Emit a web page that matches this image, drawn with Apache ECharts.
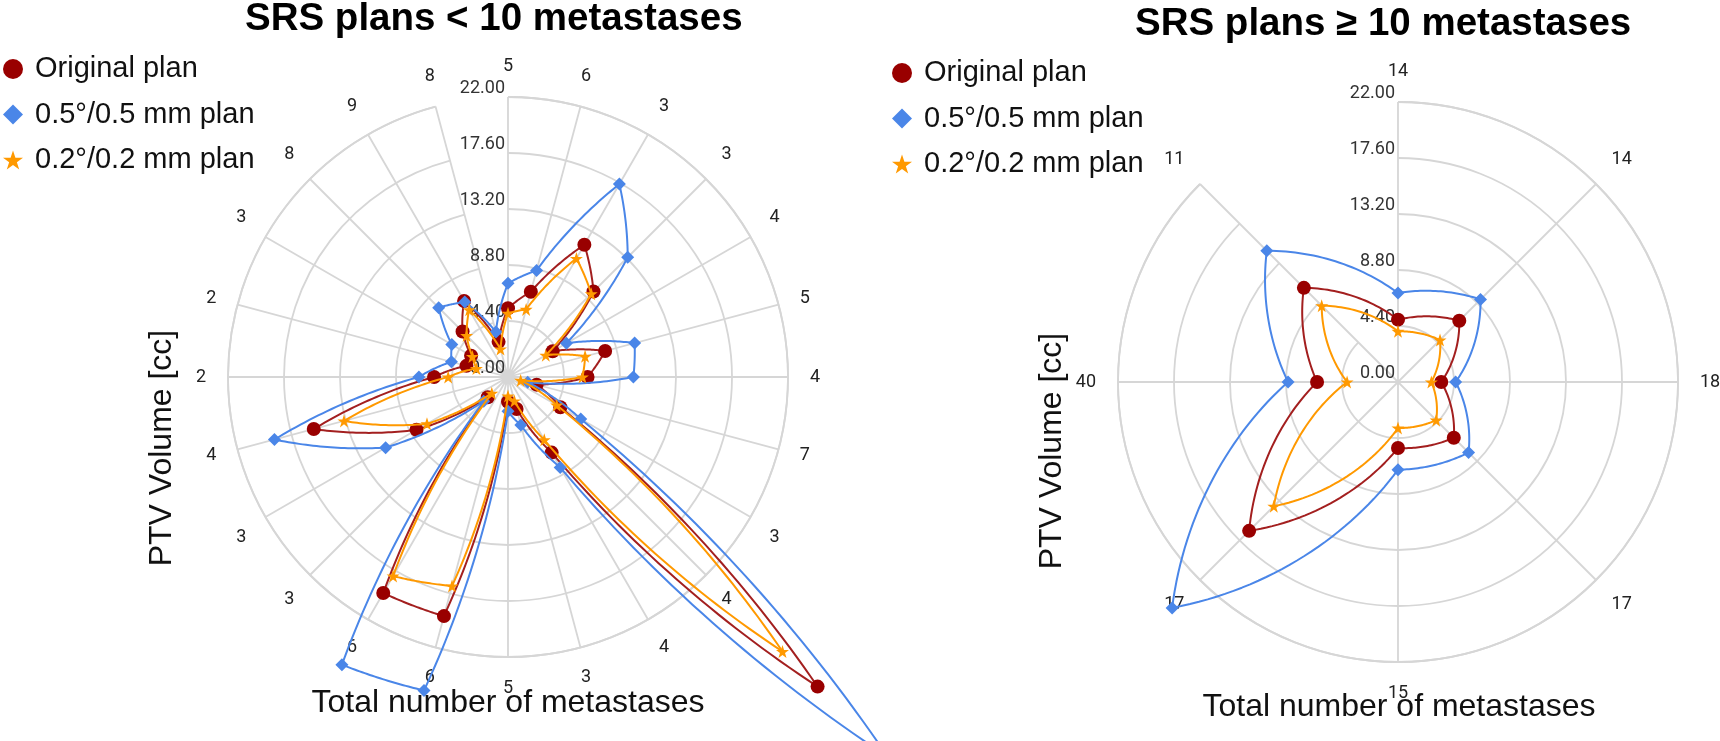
<!DOCTYPE html>
<html><head><meta charset="utf-8">
<script src="https://cdn.jsdelivr.net/npm/echarts@6/dist/echarts.min.js"></script>
<style>html,body{margin:0;padding:0;background:#fff}#c{width:1720px;height:741px}</style>
</head><body><div id="c"></div>
<script>
// ---- data ----
const leftCategories = ['5','6','3','3','4','5','4','7','3','4','4','3','5','6','6','3','3','4','2','2','3','8','9','8'];
const leftOriginal = [5.4, 6.94, 12.0, 9.5, 4.05, 7.9, 6.25, 2.33, 4.75, 34.4, 6.86, 2.6, 1.95, 19.45, 19.6, 2.25, 8.3, 15.8, 5.81, 3.38, 3.35, 5.05, 6.9, 2.86];
const leftPlan05 = [7.36, 8.67, 17.5, 13.3, 5.3, 10.3, 9.85, 1.6, 6.6, 42.2, 8.2, 3.9, 2.7, 25.5, 26.1, 2.7, 11.1, 19.0, 7.0, 4.6, 5.1, 7.7, 6.8, 3.67];
const leftPlan02 = [5.0, 5.5, 10.75, 9.25, 3.43, 6.27, 5.85, 1.03, 4.42, 30.5, 5.7, 1.95, 1.5, 17.0, 18.06, 1.8, 7.35, 13.34, 4.7, 2.57, 3.23, 4.6, 6.1, 2.28];

const rightCategories = ['14','14','18','17','15','17','40','11'];
const rightOriginal = [4.9, 6.81, 3.4, 6.2, 5.19, 16.54, 6.36, 10.46];
const rightPlan05 = [6.99, 9.17, 4.53, 7.84, 6.89, 25.1, 8.64, 14.58];
const rightPlan02 = [3.98, 4.67, 2.62, 4.24, 3.61, 13.8, 4.0, 8.48];

const radiusMin = 0, radiusMax = 22, radiusStep = 4.4;
const seriesNames = ['Original plan', '0.5°/0.5 mm plan', '0.2°/0.2 mm plan'];
const titles = ['SRS plans < 10 metastases', 'SRS plans \u2265 10 metastases'];
const yAxisTitle = 'PTV Volume [cc]';
const xAxisTitle = 'Total number of metastases';

// ---- styling / layout ----
const FONT = '"Liberation Sans", Arial, sans-serif';
const TICKFONT = 'Roboto, "Liberation Sans", sans-serif';
const GRID = '#d6d6d6';
const RED = '#990000', RED_LINE = '#a31f1f', BLUE = '#4a86e8', ORANGE = '#ff9900';
const STAR = 'path://M50,0 L61.8,35.1 L98.8,35.1 L68.9,56.8 L80.3,91.9 L50,70.2 L19.7,91.9 L31.1,56.8 L1.2,35.1 L38.2,35.1 Z';
const R = 280;          // visible grid radius (px) for radiusMax
const K = 3;            // hidden data polar is K times larger so long spikes are not clipped
const centers = [[508, 377], [1398, 382]];
const BULGE = 0.55;     // curve shape between straight chord (0) and polar interpolation (1)
const STEPS = 32;

function curveSeries(vals, polarIndex, color, z) {
  const n = vals.length;
  const data = vals.map((v, i) => [v, i, vals[(i + 1) % n]]);
  return {
    type: 'custom', name: 'curve' + polarIndex + color, coordinateSystem: 'polar', polarIndex,
    silent: true, z, animation: false, clip: false,
    encode: { radius: 0, angle: 1 },
    data,
    renderItem(params, api) {
      const r0 = api.value(0), a0 = api.value(1), r1 = api.value(2);
      const P0 = api.coord([r0, a0]);
      const P1 = api.coord([r1, a0 + 1]);
      const pts = [];
      for (let k = 0; k <= STEPS; k++) {
        const t = k / STEPS;
        const S = api.coord([r0 + (r1 - r0) * t, a0 + t]);
        const cx = P0[0] + (P1[0] - P0[0]) * t, cy = P0[1] + (P1[1] - P0[1]) * t;
        pts.push([cx + (S[0] - cx) * BULGE, cy + (S[1] - cy) * BULGE]);
      }
      return { type: 'polyline', shape: { points: pts },
        style: { stroke: color, lineWidth: 2, fill: null, lineJoin: 'round' } };
    }
  };
}
function markerSeries(name, vals, polarIndex, color, symbol, size, z) {
  return {
    name, type: 'scatter', coordinateSystem: 'polar', polarIndex,
    data: vals.map((v, i) => [v, i]), symbol, symbolSize: size, clip: false,
    itemStyle: { color, opacity: 1 }, z, animation: false, silent: true
  };
}
function visibleAngle(idx, cats) {
  return {
    polarIndex: idx, type: 'category', data: cats, startAngle: 90, clockwise: true,
    boundaryGap: false,
    axisLine: { show: true, lineStyle: { color: GRID, width: 1.8 } },
    axisTick: { show: false },
    axisLabel: { interval: 0, fontSize: 18, color: '#222', margin: 22, fontFamily: TICKFONT },
    splitLine: { show: true, interval: 0, lineStyle: { color: GRID, width: 1.8 } }
  };
}
function hiddenAngle(idx, n) {
  return { polarIndex: idx, type: 'value', min: 0, max: n, startAngle: 90, clockwise: true,
    axisLine: { show: false }, axisTick: { show: false }, axisLabel: { show: false },
    splitLine: { show: false } };
}
function visibleRadius(idx) {
  return {
    polarIndex: idx, type: 'value', min: radiusMin, max: radiusMax, interval: radiusStep,
    axisLine: { show: false }, axisTick: { show: false },
    axisLabel: { formatter: v => v.toFixed(2), fontSize: 18, color: '#333', margin: 3,
      verticalAlign: 'bottom', fontFamily: TICKFONT },
    splitLine: { show: true, lineStyle: { color: GRID, width: 1.8 } }
  };
}
function hiddenRadius(idx) {
  return { polarIndex: idx, type: 'value', min: radiusMin, max: radiusMax * K,
    axisLine: { show: false }, axisTick: { show: false }, axisLabel: { show: false },
    splitLine: { show: false } };
}
function legend(left, top) {
  return {
    orient: 'vertical', left, top, itemWidth: 20, itemHeight: 20, itemGap: 15.5,
    selectedMode: false,
    data: [
      { name: seriesNames[0], icon: 'circle' },
      { name: seriesNames[1], icon: 'diamond' },
      { name: seriesNames[2], icon: STAR }
    ],
    textStyle: { fontSize: 29, lineHeight: 30, fontFamily: FONT, color: '#111', padding: [0, 0, 0, 7] }
  };
}
function txt(x, y, text, rot) {
  return { type: 'text', x, y, rotation: rot || 0, z: 10,
    style: { text, fontSize: 32, fontFamily: FONT, fill: '#111', align: 'center', verticalAlign: 'middle' } };
}
function chartSeries(orig, p05, p02, polarIndex) {
  return [
    curveSeries(orig, polarIndex, RED_LINE, 3),
    markerSeries(seriesNames[0], orig, polarIndex, RED, 'circle', 14, 4),
    curveSeries(p05, polarIndex, BLUE, 5),
    markerSeries(seriesNames[1], p05, polarIndex, BLUE, 'diamond', 13, 6),
    curveSeries(p02, polarIndex, ORANGE, 7),
    markerSeries(seriesNames[2], p02, polarIndex, ORANGE, STAR, 13, 8)
  ];
}

const chart = echarts.init(document.getElementById('c'));
chart.setOption({
  animation: false,
  backgroundColor: '#fff',
  title: [
    { text: titles[0], left: 240, top: -5, textStyle: { fontSize: 38.5, fontWeight: 'bold', fontFamily: FONT, color: '#000' } },
    { text: titles[1], left: 1130, top: 0, textStyle: { fontSize: 38.5, fontWeight: 'bold', fontFamily: FONT, color: '#000' } }
  ],
  legend: [legend(-2, 49), legend(887, 53)],
  polar: [
    { center: centers[0], radius: R },
    { center: centers[1], radius: R },
    { center: centers[0], radius: R * K },
    { center: centers[1], radius: R * K }
  ],
  angleAxis: [
    visibleAngle(0, leftCategories), visibleAngle(1, rightCategories),
    hiddenAngle(2, leftCategories.length), hiddenAngle(3, rightCategories.length)
  ],
  radiusAxis: [visibleRadius(0), visibleRadius(1), hiddenRadius(2), hiddenRadius(3)],
  series: [
    ...chartSeries(leftOriginal, leftPlan05, leftPlan02, 2),
    ...chartSeries(rightOriginal, rightPlan05, rightPlan02, 3)
  ],
  graphic: [
    txt(162, 448, yAxisTitle, Math.PI / 2),
    txt(1052, 451, yAxisTitle, Math.PI / 2),
    txt(508, 703, xAxisTitle),
    txt(1399, 707, xAxisTitle)
  ]
});
</script>
</body></html>
